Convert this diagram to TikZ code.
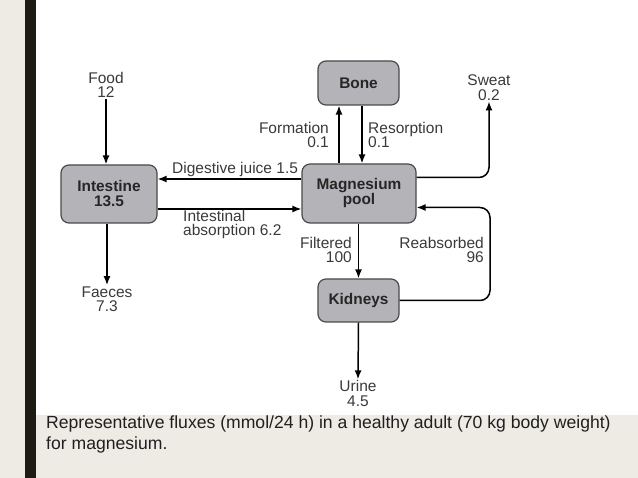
\documentclass[tikz,border=0pt]{standalone}
\usepackage{fontspec}
\setmainfont{Liberation Sans}
\usetikzlibrary{positioning}
\usetikzlibrary{arrows.meta}
\definecolor{slidebg}{HTML}{EDEBE4}
\definecolor{slidebar}{HTML}{1C1C14}
\definecolor{boxfill}{HTML}{B4B4B8}
\definecolor{boxline}{HTML}{4A4A4A}
\definecolor{labtext}{HTML}{3A3A3A}
\tikzset{
  organ/.style={draw=boxline, line width=1.2pt, fill=boxfill, rounded corners=8pt,
    inner sep=0pt, align=center, text=black!85, font=\fontsize{15.4}{15}\selectfont\bfseries},
  flux/.style={inner sep=1pt, text=labtext, font=\fontsize{15.5}{14.5}\selectfont},
  flow/.style={draw=black, line width=1.5pt, -{Latex[length=9pt,width=7pt]}}
}
\begin{document}
\begin{tikzpicture}[x=1pt, y=-1pt]
				\useasboundingbox (0,0) rectangle (638,478);
				\fill[slidebg] (0,0) rectangle (638,478);
				\fill[white] (36,0) rectangle (638,415);
				\fill[slidebar] (25,0) rectangle (36,478);
				\node[organ, minimum width=96pt, minimum height=58pt] (intestine) at (109,194) {Intestine\\13.5};
				\node[organ, minimum width=81pt, minimum height=44pt] (bone) at (358.5,83) {Bone};
				\node[organ, minimum width=114pt, minimum height=59pt] (pool) at (359,193.5) {Magnesium\\pool};
				\node[organ, minimum width=81pt, minimum height=43pt] (kidneys) at (358.5,300.5) {Kidneys};
				\node[flux, align=center] (food) at (106,85) {Food\\12};
				\node[flux, align=center] (faeces) at (107,299) {Faeces\\7.3};
				\node[flux, align=center] (sweat) at (489,87.5) {Sweat\\0.2};
				\node[flux, align=center] (urine) at (358,393.5) {Urine\\4.5};
				\node[flux, align=right, anchor=east] (formation) at (330,135) {Formation\\0.1};
				\node[flux, align=left, anchor=west] (resorption) at (367,135) {Resorption\\0.1};
				\node[flux, align=right, anchor=east] (filtered) at (353,250) {Filtered\\100};
				\node[flux, align=right, anchor=east] (reabsorbed) at (485,250) {Reabsorbed\\96};
				\node[flux, anchor=west] (juice) at (171,169) {Digestive juice 1.5};
				\node[flux, align=left, anchor=west] (absorption) at (182,224.5) {Intestinal\\absorption 6.2};
				\coordinate (reab) at (490,207.5);
				\begin{scope}[rounded corners=10pt]
					\draw[flow] (food.south) -- (food.south |- intestine.north);
					\draw[flow] (faeces.north |- intestine.south) -- (faeces.north);
					\draw[flow] ([yshift=14.5pt]pool.west) -- ([yshift=14.5pt]pool.west -| intestine.east);
					\draw[flow] ([yshift=-15pt]intestine.east) -- ([yshift=-15pt]intestine.east -| pool.west);
					\draw[flow] ([xshift=-20pt]pool.north) -- ([xshift=-20pt]pool.north |- bone.south);
					\draw[flow] ([xshift=3.5pt]bone.south) -- ([xshift=3.5pt]bone.south |- pool.north);
					\draw[flow] ([yshift=16pt]pool.east) -| (sweat.south);
					\draw[flow] (kidneys.north |- pool.south) -- (kidneys.north);
					\draw[flow] (kidneys.east) -| (reab) -- (reab -| pool.east);
					\draw[flow] (kidneys.south) -- (urine.north);
				\end{scope}
				\node[anchor=west, align=left, inner sep=0pt, text=black!88,
					font=\fontsize{17.6}{21}\selectfont] (caption) at (46,434.5)
					{Representative fluxes (mmol/24 h) in a healthy adult (70 kg body weight)\\for magnesium.};
			\end{tikzpicture}
\end{document}
